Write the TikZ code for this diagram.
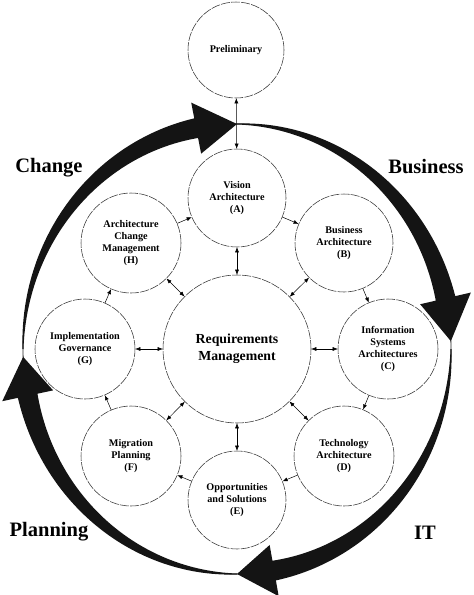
\documentclass[tikz,border=0pt]{standalone}
\usepackage{fontspec}
\setmainfont{Liberation Serif}
\usetikzlibrary{arrows.meta}
\tikzset{
  phase/.style={circle, draw=black!80, line width=0.55pt, dash pattern=on 9pt off 1.2pt,
    minimum size=98pt, inner sep=0pt, align=center,
    font=\bfseries\fontsize{10.2}{12}\selectfont},
  hub/.style={phase, minimum size=148pt, font=\bfseries\fontsize{13.8}{17}\selectfont},
  cyc/.style={-{Latex[length=5pt,width=4pt]}, line width=0.5pt, black},
  bidi/.style={{Latex[length=5pt,width=4pt]}-{Latex[length=5pt,width=4pt]}, line width=0.5pt, black},
  biglabel/.style={font=\bfseries\fontsize{20.5}{24}\selectfont},
  arrowfill/.style={fill=black!92}
}
\newcommand\ringarrow[3]{%
  \fill[arrowfill] plot[domain=#1:#2, samples=60, variable=\t]
     ({237+(214+0.5+9.5*((#1)-(\t))/((#1)-(#2)))*cos(\t)}, {349-(225+0.5+9.5*((#1)-(\t))/((#1)-(#2)))*sin(\t)})
   -- ({237+240*cos(#2)}, {349-251*sin(#2)})
   -- ({237+214*cos(#3)}, {349-225*sin(#3)})
   -- ({237+188*cos(#2)}, {349-199*sin(#2)})
   -- plot[domain=#2:#1, samples=60, variable=\t]
     ({237+(214-0.5-9.5*((#1)-(\t))/((#1)-(#2)))*cos(\t)}, {349-(225-0.5-9.5*((#1)-(\t))/((#1)-(#2)))*sin(\t)})
   -- cycle;
}
\begin{document}
\begin{tikzpicture}[x=1pt, y=-1pt]
\useasboundingbox (0,0) rectangle (474,595);
% outer ring
\draw[line width=0.8pt, black!85] (237,349) ellipse [x radius=214pt, y radius=225pt];
\ringarrow{180}{101}{90}
\ringarrow{90}{13}{2}
\ringarrow{0}{-80}{-90}
\ringarrow{-90}{-168}{-178}
% labels
\node[biglabel] (lchange) at (49,168) {Change};
\node[biglabel] (lbusiness) at (426,167) {Business};
\node[biglabel] (lplanning) at (49,532) {Planning};
\node[biglabel] (lit) at (425,533) {IT};
% phases
\node[phase, minimum size=96pt] (P) at (236,50) {Preliminary};
\node[phase] (A) at (237,198) {Vision\\Architecture\\(A)};
\node[phase] (B) at (344,243) {Business\\Architecture\\(B)};
\node[phase, minimum size=100pt] (C) at (388,349) {Information\\Systems\\Architectures\\(C)};
\node[phase, minimum size=100pt] (D) at (344,456) {Technology\\Architecture\\(D)};
\node[phase] (E) at (237,500) {Opportunities\\and Solutions\\(E)};
\node[phase, minimum size=100pt] (F) at (131,456) {Migration\\Planning\\(F)};
\node[phase, minimum size=100pt] (G) at (85,349) {Implementation\\Governance\\(G)};
\node[phase, minimum size=100pt] (H) at (131,243) {Architecture\\Change\\Management\\(H)};
\node[hub] (R) at (237,349) {Requirements\\Management};
% connectors
\draw[bidi] (P) -- (A);
\foreach \a/\b in {A/B, B/C, C/D, D/E, E/F, F/G, G/H, H/A}
  \draw[cyc] (\a) -- (\b);
\foreach \a in {A,B,C,D,E,F,G,H}
  \draw[bidi] (R) -- (\a);
\end{tikzpicture}
\end{document}
